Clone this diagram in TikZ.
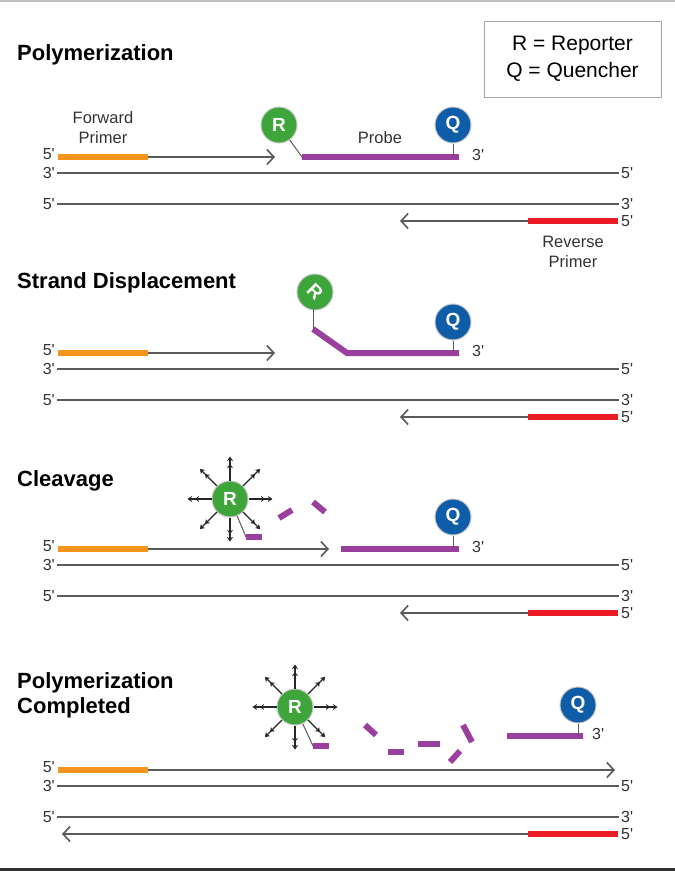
\documentclass[tikz,border=0pt]{standalone}
\usepackage{fontspec}
\setmainfont{Liberation Sans}
\usetikzlibrary{arrows.meta, positioning}

\definecolor{fwdorange}{HTML}{F7941D}
\definecolor{probepurple}{HTML}{9A3F9E}
\definecolor{revred}{HTML}{EC1C24}
\definecolor{repgreen}{HTML}{3DA53A}
\definecolor{quenchblue}{HTML}{0F5DA9}
\definecolor{strandgray}{HTML}{5A5A5A}

\newcommand\primemark{\textquotesingle}

\begin{document}
\begin{tikzpicture}[x=1pt, y=-1pt,
    strand/.style={strandgray, line width=1.4pt},
    ext/.style={strand, -{Straight Barb[length=7pt, width=15pt, line width=1.6pt]}},
    fwdprimer/.style={fwdorange, line width=6pt},
    revprimer/.style={revred, line width=6pt},
    probe/.style={probepurple, line width=6pt},
    tether/.style={strandgray, line width=1pt},
    ray/.style={black!85, line width=1.1pt,
      -{Stealth[length=4pt, width=6pt, sep=3pt]Stealth[length=4.5pt, width=6pt]}},
    endlbl/.style={inner sep=2pt, text=black!80, font=\fontsize{16}{16}\selectfont},
    lbl/.style={align=center, text=black!80, font=\fontsize{16.5}{20}\selectfont},
    title/.style={anchor=west, align=left, inner sep=0pt, font=\fontsize{22}{25}\bfseries},
    reporter/.style={circle, fill=repgreen, draw=gray!45, line width=1pt, minimum size=36pt,
      inner sep=0pt, text=white, font=\fontsize{19}{19}\bfseries},
    quencher/.style={reporter, fill=quenchblue}
  ]
  \useasboundingbox (0,0) rectangle (675,871);
  \draw[gray!50, line width=1.5pt] (0,1) -- (675,1);
  \draw[black!80, line width=2.5pt] (0,869.5) -- (675,869.5);

  % strands common to all four steps
  \foreach \n/\y/\fwd/\rev in {1/157/275/400, 2/353/275/400, 3/549/329/400, 4/770/615/62} {
    \node[endlbl, anchor=east] (tl\n) at (57,\y-3) {5\primemark};
    \coordinate (fs\n) at (58,\y);
    \coordinate (fe\n) at (148,\y);
    \coordinate (ft\n) at (\fwd,\y);
    \draw[ext] (fe\n) -- (ft\n);
    \draw[fwdprimer] (fs\n) -- (fe\n);

    \node[endlbl, anchor=east] (ml\n) at (57,\y+16) {3\primemark};
    \node[endlbl, anchor=west] (mr\n) at (619,\y+16) {5\primemark};
    \draw[strand] (ml\n) -- (mr\n);

    \node[endlbl, anchor=east] (bl\n) at (57,\y+47) {5\primemark};
    \node[endlbl, anchor=west] (br\n) at (619,\y+47) {3\primemark};
    \draw[strand] (bl\n) -- (br\n);

    \node[endlbl, anchor=west] (rl\n) at (619,\y+64) {5\primemark};
    \coordinate (rs\n) at (618,\y+64);
    \coordinate (re\n) at (528,\y+64);
    \coordinate (rt\n) at (\rev,\y+64);
    \draw[ext] (re\n) -- (rt\n);
    \draw[revprimer] (rs\n) -- (re\n);
  }

  % Polymerization
  \node[title] (t1) at (17,55) {Polymerization};
  \node[draw=gray!70, line width=1pt, minimum width=177pt, minimum height=76pt, align=center,
    font=\fontsize{21}{27}\selectfont] (key) at (572.5,59) {R = Reporter\\Q = Quencher};
  \node[lbl] (fwd) at (103,128) {Forward\\Primer};
  \node[lbl] (prb) at (380,138) {Probe};
  \node[lbl] (rev) at (573,252) {Reverse\\Primer};
  \node[reporter] (R1) at (279,125) {R};
  \node[quencher] (Q1) at (453,125) {Q};
  \coordinate (ps1) at (302,157);
  \coordinate (pe1) at (459,157);
  \draw[probe] (ps1) -- (pe1);
  \draw[tether] (R1) -- (ps1);
  \draw[tether] (Q1.south) -- (Q1.south |- pe1);
  \node[endlbl, anchor=west] (p3a) at (470,155) {3\primemark};

  % Strand Displacement
  \node[title] (t2) at (17,283) {Strand Displacement};
  \node[reporter] (R2) at (315,292) {\rotatebox{-45}{R}};
  \node[quencher] (Q2) at (453,322) {Q};
  \coordinate (rt2) at (313,309);
  \coordinate (ps2) at (313,329);
  \coordinate (pk2) at (347,353);
  \coordinate (pe2) at (459,353);
  \draw[probe, line join=miter] (ps2) -- (pk2) -- (pe2);
  \draw[tether] (rt2) -- (ps2);
  \draw[tether] (Q2.south) -- (Q2.south |- pe2);
  \node[endlbl, anchor=west] (p3b) at (470,351) {3\primemark};

  % Cleavage
  \node[title] (t3) at (17,481) {Cleavage};
  \node[reporter] (R3) at (230,499) {R};
  \foreach \a in {0,45,...,315}
    \draw[ray] (R3.\a) -- ++(-\a:24);
  \coordinate (c3a) at (246,537);
  \draw[probe] (c3a) -- (262,537);
  \draw[tether] (R3) -- (c3a);
  \draw[probe] (279,518) -- (292,510);
  \draw[probe] (313,502) -- (325,512);
  \node[quencher] (Q3) at (453,517) {Q};
  \coordinate (ps3) at (341,549);
  \coordinate (pe3) at (459,549);
  \draw[probe] (ps3) -- (pe3);
  \draw[tether] (Q3.south) -- (Q3.south |- pe3);
  \node[endlbl, anchor=west] (p3c) at (470,547) {3\primemark};

  % Polymerization Completed
  \node[title] (t4) at (17,695) {Polymerization\\Completed};
  \node[reporter] (R4) at (295,707) {R};
  \foreach \a in {0,45,...,315}
    \draw[ray] (R4.\a) -- ++(-\a:24);
  \coordinate (c4a) at (313,746);
  \draw[probe] (c4a) -- (329,746);
  \draw[tether] (R4) -- (c4a);
  \draw[probe] (365,725) -- (376,735);
  \draw[probe] (388,752) -- (404,752);
  \draw[probe] (418,744) -- (440,744);
  \draw[probe] (450,762) -- (460,751);
  \draw[probe] (463,725) -- (472,742);
  \node[quencher] (Q4) at (578,705) {Q};
  \coordinate (ps4) at (507,736);
  \coordinate (pe4) at (583,736);
  \draw[probe] (ps4) -- (pe4);
  \draw[tether] (Q4.south) -- (Q4.south |- pe4);
  \node[endlbl, anchor=west] (p3d) at (590,734) {3\primemark};
\end{tikzpicture}
\end{document}
